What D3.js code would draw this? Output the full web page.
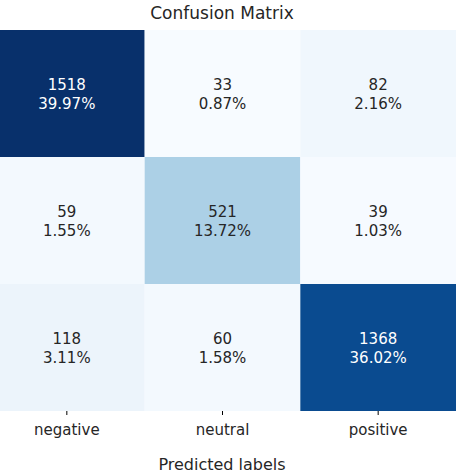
<!DOCTYPE html>
<html><head><meta charset="utf-8">
<script src="https://cdn.jsdelivr.net/npm/d3@7"></script>
<style>body{margin:0;background:#fff}text{font-family:"DejaVu Sans",sans-serif}</style>
</head><body><svg id="c" width="474" height="474"></svg>
<script>
const labels = ['negative', 'neutral', 'positive'];
const counts = [
  [1518, 33, 82],
  [59, 521, 39],
  [118, 60, 1368]
];
const percents = [
  ['39.97%', '0.87%', '2.16%'],
  ['1.55%', '13.72%', '1.03%'],
  ['3.11%', '1.58%', '36.02%']
];

const svg = d3.select('#c');
const x = d3.scaleBand().domain(labels).range([-11, 456]);
const y = d3.scaleBand().domain(labels).range([30, 411]);
const color = d3.scaleSequential(d3.interpolateBlues).domain([33, 1518]);

const cells = [];
counts.forEach((row, i) => row.forEach((v, j) => cells.push({r: labels[i], c: labels[j], v, p: percents[i][j]})));

const g = svg.append('g');
g.selectAll('rect').data(cells).enter().append('rect')
  .attr('x', d => x(d.c)).attr('y', d => y(d.r))
  .attr('width', x.bandwidth()).attr('height', y.bandwidth())
  .attr('fill', d => color(d.v));

const t = g.selectAll('text.v').data(cells).enter().append('text')
  .attr('text-anchor', 'middle').attr('font-size', 15)
  .attr('fill', d => d.v > 900 ? '#ffffff' : '#262626');
t.append('tspan').attr('x', d => x(d.c) + x.bandwidth() / 2).attr('y', d => y(d.r) + y.bandwidth() / 2 - 4).text(d => d.v);
t.append('tspan').attr('x', d => x(d.c) + x.bandwidth() / 2).attr('y', d => y(d.r) + y.bandwidth() / 2 + 15).text(d => d.p);

const xAxis = svg.append('g').attr('transform', 'translate(0,411)')
  .call(d3.axisBottom(x).tickSize(4));
xAxis.select('.domain').remove();
xAxis.selectAll('text').attr('font-size', 15).attr('fill', '#262626').attr('dy', '1.1em');

svg.append('text').attr('x', 222).attr('y', 19).attr('text-anchor', 'middle')
  .attr('font-size', 17).attr('fill', '#262626').text('Confusion Matrix');
svg.append('text').attr('x', 222).attr('y', 470).attr('text-anchor', 'middle')
  .attr('font-size', 16).attr('fill', '#262626').text('Predicted labels');
</script></body></html>
